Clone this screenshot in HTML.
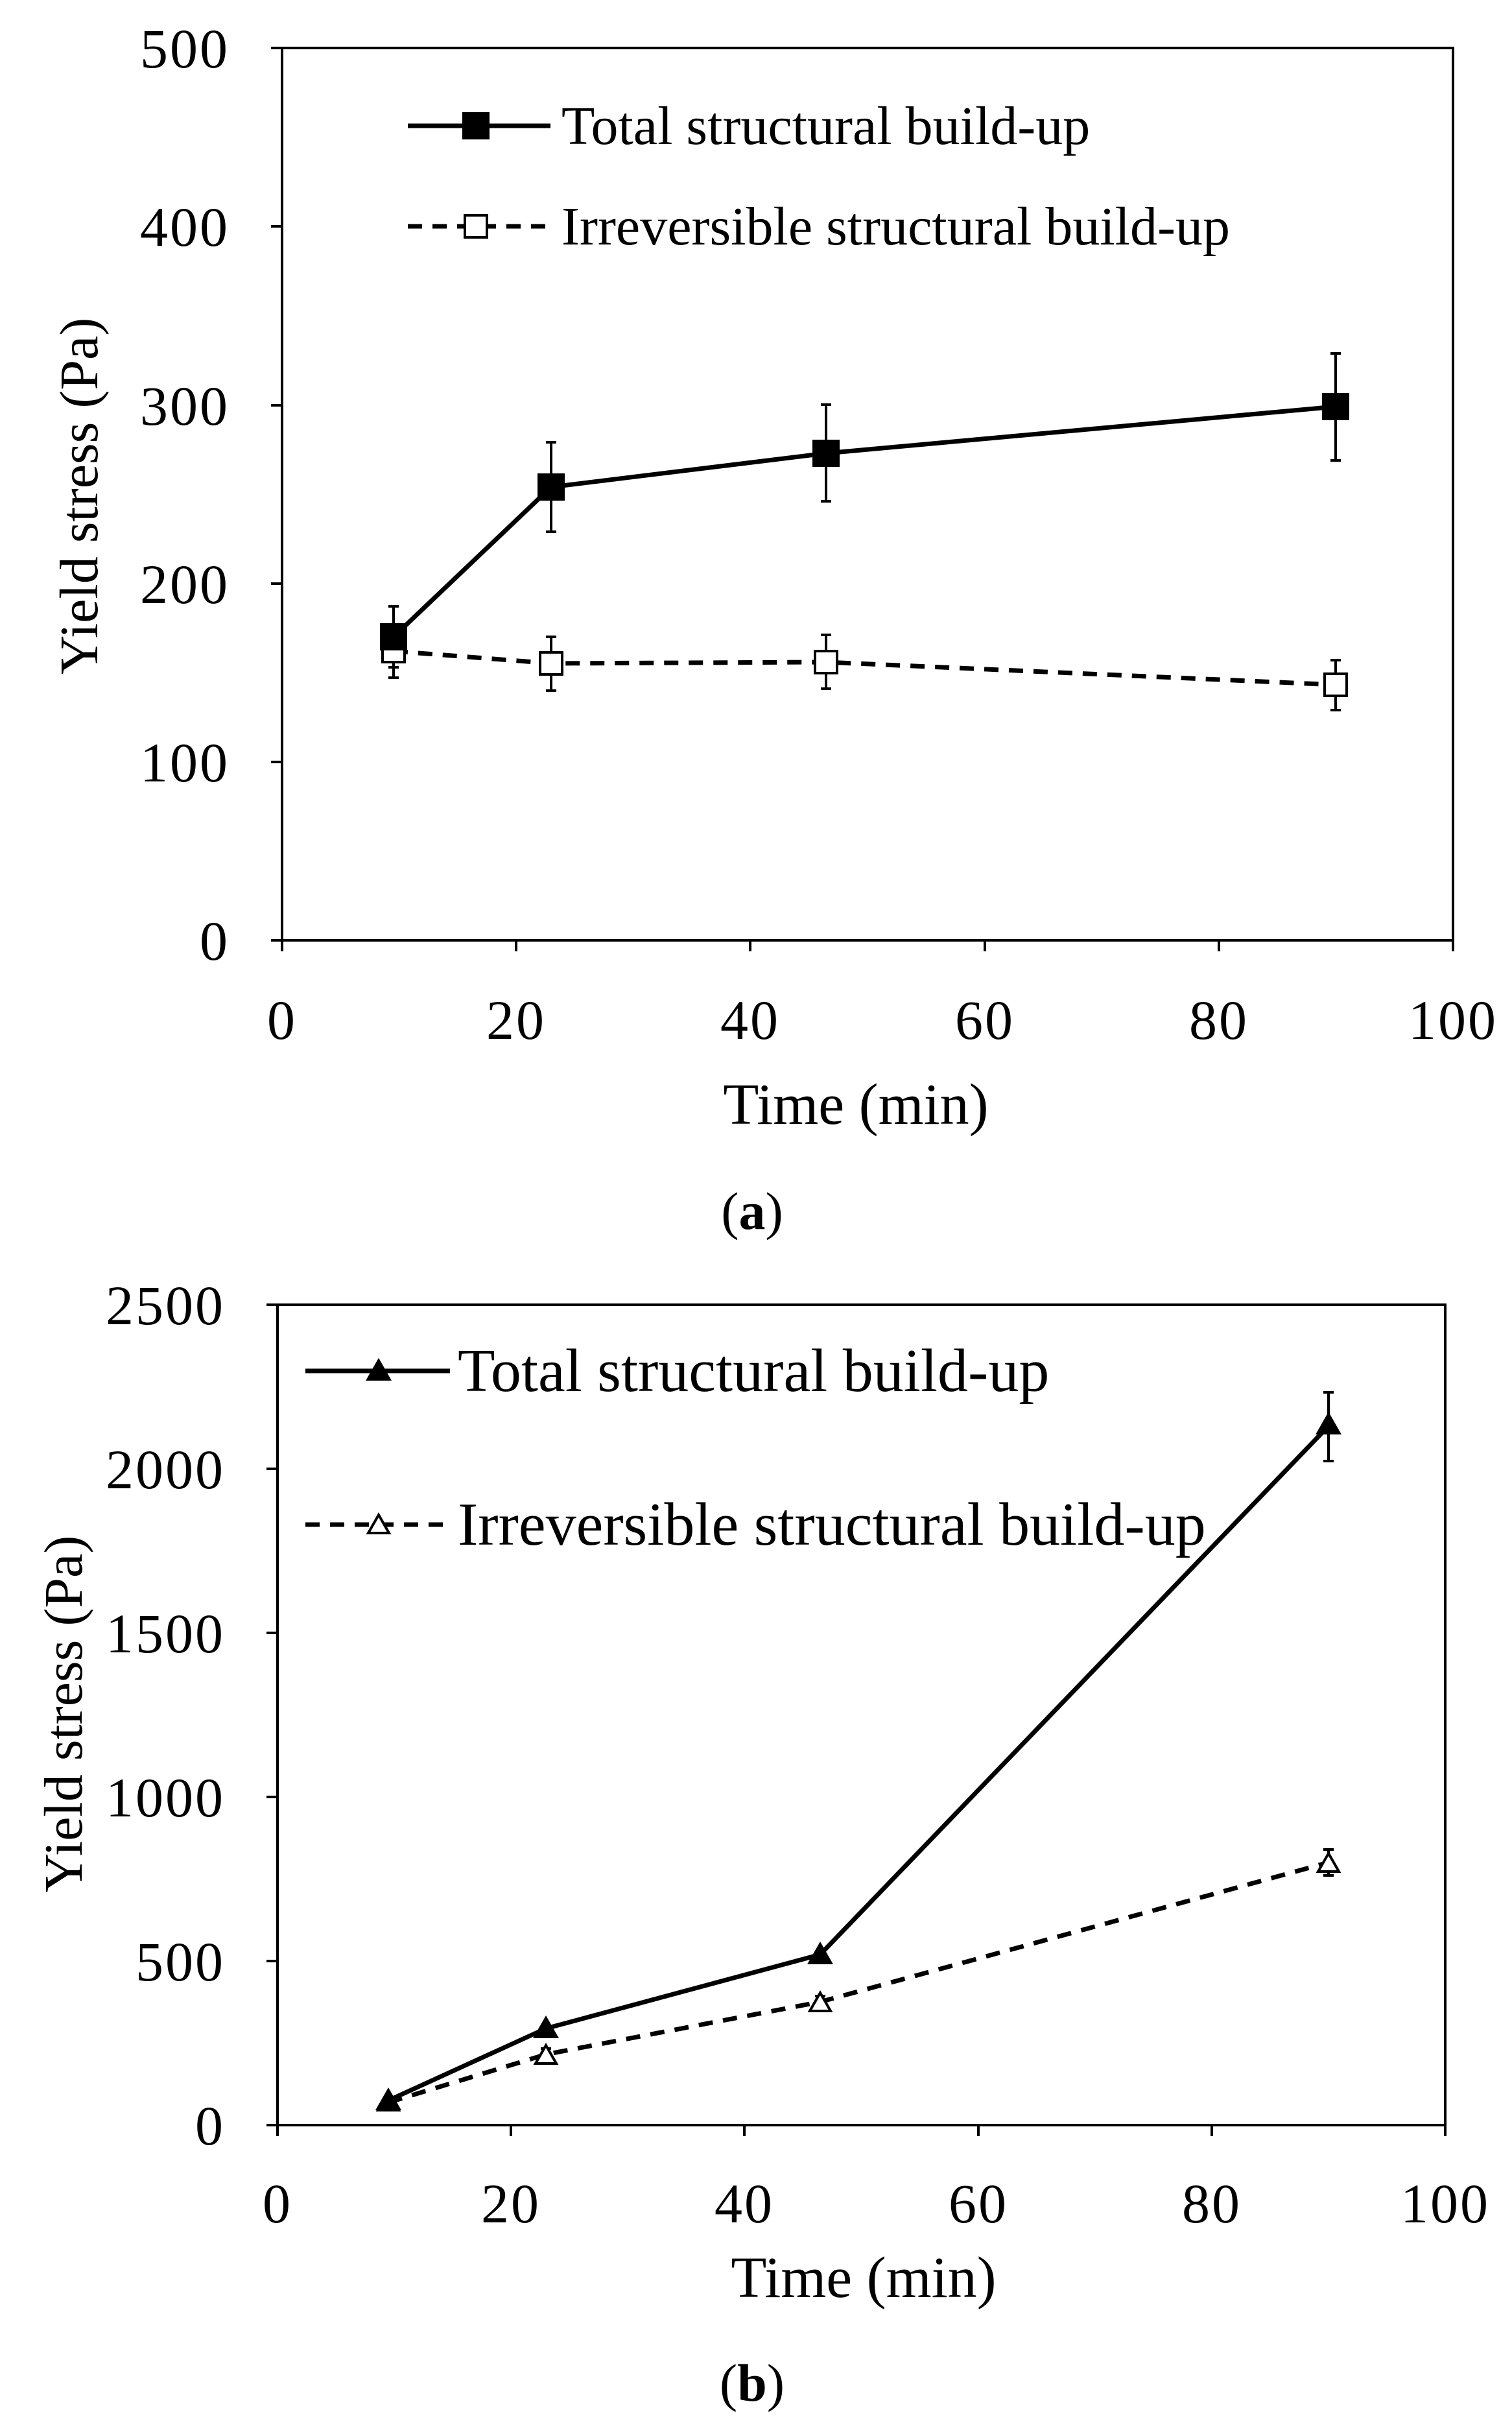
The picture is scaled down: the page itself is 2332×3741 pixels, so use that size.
<!DOCTYPE html>
<html><head><style>body{margin:0;background:#fff}svg{display:block}</style></head><body>
<svg width="2332" height="3741" viewBox="0 0 2332 3741" xmlns="http://www.w3.org/2000/svg" font-family="Liberation Serif, serif" fill="#000">
<!-- Panel a -->
<g stroke="#000" stroke-width="4" fill="none">
<rect x="435" y="74" width="1806" height="1376"/>
<path d="M435 1450v17M796 1450v17M1157 1450v17M1519 1450v17M1880 1450v17M2241 1450v17"/>
<path d="M418 74h17M418 349h17M418 625h17M418 900h17M418 1175h17M418 1450h17"/>
</g>
<g font-size="86" text-anchor="end" letter-spacing="3">
<text x="354" y="104">500</text><text x="354" y="379">400</text><text x="354" y="655">300</text><text x="354" y="930">200</text><text x="354" y="1205">100</text><text x="354" y="1480">0</text>
</g>
<g font-size="86" text-anchor="middle" letter-spacing="3">
<text x="435" y="1602">0</text><text x="796" y="1602">20</text><text x="1157" y="1602">40</text><text x="1519" y="1602">60</text><text x="1880" y="1602">80</text><text x="2241" y="1602">100</text>
</g>
<g text-anchor="middle">
<text x="1320" y="1733" font-size="90">Time (min)</text>
<text x="1160" y="1895" font-size="82">(<tspan font-weight="bold">a</tspan>)</text>
<text transform="translate(150,765) rotate(-90)" font-size="84">Yield stress (Pa)</text>
</g>
<!-- series a -->
<g stroke="#000" stroke-width="4">
<path d="M607 963v82M599 963h16M599 1045h16 M850 982v83M842 982h16M842 1065h16 M1274 979v83M1266 979h16M1266 1062h16 M2060 1018v77M2052 1018h16M2052 1095h16"/>
<path d="M607 935v94M599 935h16M599 1029h16 M850 682v138M842 682h16M842 820h16 M1274 624v149M1266 624h16M1266 773h16 M2060 545v165M2052 545h16M2052 710h16"/>
</g>
<polyline points="607,1004 850,1023 1274,1021 2060,1056" fill="none" stroke="#000" stroke-width="7" stroke-dasharray="22,16"/>
<polyline points="607,982 850,751 1274,699 2060,627" fill="none" stroke="#000" stroke-width="7"/>
<g fill="#fff" stroke="#000" stroke-width="4">
<rect x="590" y="987" width="34" height="34"/><rect x="833" y="1006" width="34" height="34"/><rect x="1257" y="1004" width="34" height="34"/><rect x="2043" y="1039" width="34" height="34"/>
</g>
<g>
<rect x="586" y="961" width="42" height="42"/><rect x="829" y="730" width="42" height="42"/><rect x="1253" y="678" width="42" height="42"/><rect x="2039" y="606" width="42" height="42"/>
</g>
<!-- legend a -->
<line x1="629" y1="194" x2="849" y2="194" stroke="#000" stroke-width="7"/>
<rect x="713" y="173" width="42" height="42"/>
<line x1="629" y1="349" x2="849" y2="349" stroke="#000" stroke-width="7" stroke-dasharray="22,16"/>
<rect x="717" y="332" width="34" height="34" fill="#fff" stroke="#000" stroke-width="4"/>
<text x="866" y="222" font-size="84">Total structural build-up</text>
<text x="866" y="377" font-size="84">Irreversible structural build-up</text>

<!-- Panel b -->
<g stroke="#000" stroke-width="4" fill="none">
<rect x="428" y="2012" width="1801" height="1265"/>
<path d="M428 3277v17M788 3277v17M1148 3277v17M1509 3277v17M1869 3277v17M2229 3277v17"/>
<path d="M411 2012h17M411 2265h17M411 2518h17M411 2771h17M411 3024h17M411 3277h17"/>
</g>
<g font-size="86" text-anchor="end" letter-spacing="3">
<text x="347" y="2042">2500</text><text x="347" y="2295">2000</text><text x="347" y="2548">1500</text><text x="347" y="2801">1000</text><text x="347" y="3054">500</text><text x="347" y="3307">0</text>
</g>
<g font-size="86" text-anchor="middle" letter-spacing="3">
<text x="428" y="3427">0</text><text x="788" y="3427">20</text><text x="1148" y="3427">40</text><text x="1509" y="3427">60</text><text x="1869" y="3427">80</text><text x="2229" y="3427">100</text>
</g>
<g text-anchor="middle">
<text x="1332" y="3542" font-size="90">Time (min)</text>
<text x="1160" y="3702" font-size="82">(<tspan font-weight="bold">b</tspan>)</text>
<text transform="translate(126,2643) rotate(-90)" font-size="84">Yield stress (Pa)</text>
</g>
<g stroke="#000" stroke-width="4">
<path d="M2049 2147v106M2041 2147h16M2041 2253h16 M2049 2852v40M2041 2852h16M2041 2892h16 M842 3159v14M834 3159h16M834 3173h16 M1265 3078v12M1257 3078h16M1257 3090h16"/>
</g>
<polyline points="599,3242 842,3168 1265,3087 2049,2872" fill="none" stroke="#000" stroke-width="7" stroke-dasharray="22,16"/>
<polyline points="599,3239 842,3128 1265,3014 2049,2199" fill="none" stroke="#000" stroke-width="7"/>
<g fill="#fff" stroke="#000" stroke-width="4">
<path d="M599 3226l16 28h-32z"/><path d="M842 3154l16 28h-32z"/><path d="M1265 3073l16 28h-32z"/><path d="M2049 2858l16 28h-32z"/>
</g>
<g>
<path d="M599 3219l20 35h-40z"/><path d="M842 3108l20 35h-40z"/><path d="M1265 2994l20 35h-40z"/><path d="M2049 2177l20 35h-40z"/>
</g>
<line x1="471" y1="2114" x2="694" y2="2114" stroke="#000" stroke-width="7"/>
<path d="M584 2094l20 35h-40z"/>
<line x1="471" y1="2351" x2="694" y2="2351" stroke="#000" stroke-width="7" stroke-dasharray="22,16"/>
<path d="M584 2336l16 28h-32z" fill="#fff" stroke="#000" stroke-width="4"/>
<text x="706" y="2145" font-size="94">Total structural build-up</text>
<text x="706" y="2382" font-size="94">Irreversible structural build-up</text>
</svg>
</body></html>
